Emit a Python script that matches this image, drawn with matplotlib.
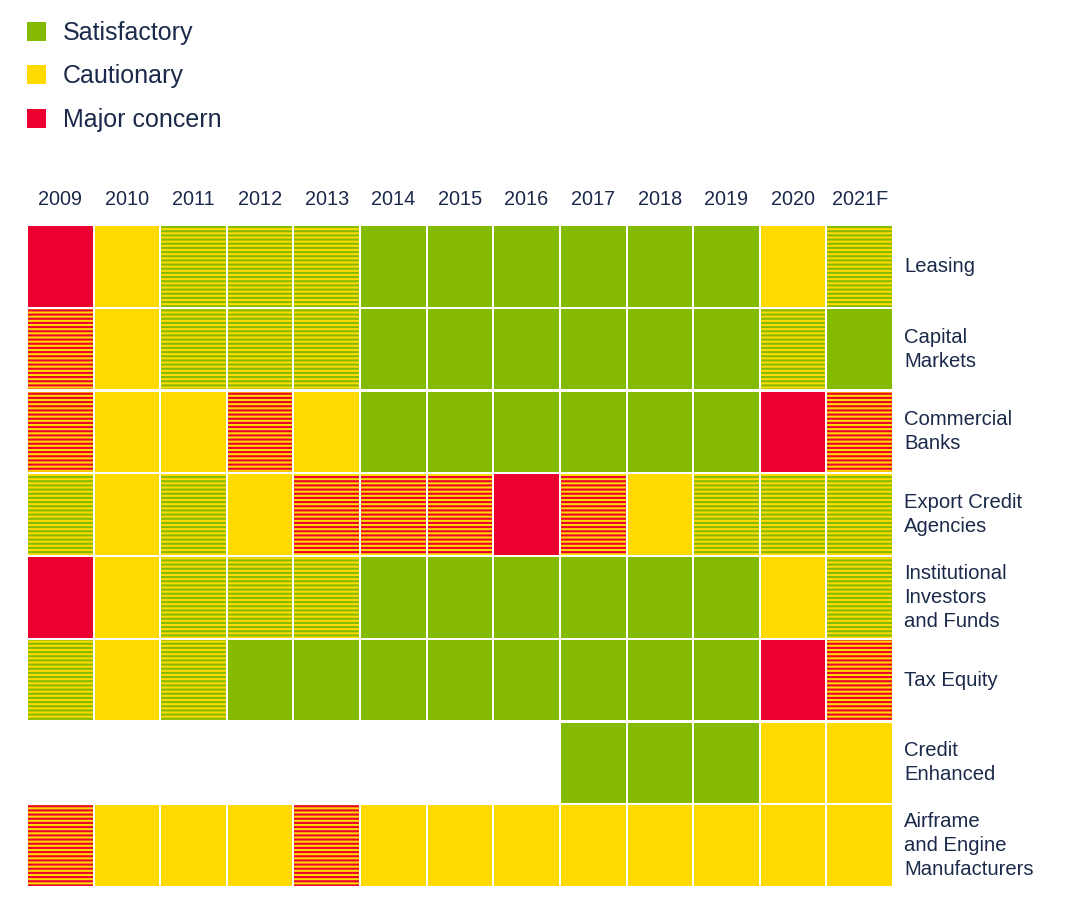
import matplotlib
matplotlib.use("Agg")
import matplotlib.pyplot as plt
from matplotlib.patches import Rectangle

# Dados
years = ['2009', '2010', '2011', '2012', '2013', '2014', '2015', '2016',
         '2017', '2018', '2019', '2020', '2021F']
sources = ['Leasing', 'Capital\nMarkets', 'Commercial\nBanks', 'Export Credit\nAgencies',
           'Institutional\nInvestors\nand Funds', 'Tax Equity', 'Credit\nEnhanced',
           'Airframe\nand Engine\nManufacturers']

# G = satisfactory, Y = cautionary, R = major concern,
# GY / RY = transition (striped), '' = no data
leasing       = ['R', 'Y', 'GY', 'GY', 'GY', 'G', 'G', 'G', 'G', 'G', 'G', 'Y', 'GY']
capital_mkts  = ['RY', 'Y', 'GY', 'GY', 'GY', 'G', 'G', 'G', 'G', 'G', 'G', 'GY', 'G']
comm_banks    = ['RY', 'Y', 'Y', 'RY', 'Y', 'G', 'G', 'G', 'G', 'G', 'G', 'R', 'RY']
eca           = ['GY', 'Y', 'GY', 'Y', 'RY', 'RY', 'RY', 'R', 'RY', 'Y', 'GY', 'GY', 'GY']
institutional = ['R', 'Y', 'GY', 'GY', 'GY', 'G', 'G', 'G', 'G', 'G', 'G', 'Y', 'GY']
tax_equity    = ['GY', 'Y', 'GY', 'G', 'G', 'G', 'G', 'G', 'G', 'G', 'G', 'R', 'RY']
credit_enh    = ['', '', '', '', '', '', '', '', 'G', 'G', 'G', 'Y', 'Y']
airframe      = ['RY', 'Y', 'Y', 'Y', 'RY', 'Y', 'Y', 'Y', 'Y', 'Y', 'Y', 'Y', 'Y']
status = [leasing, capital_mkts, comm_banks, eca, institutional, tax_equity, credit_enh, airframe]

legend_labels = ['Satisfactory', 'Cautionary', 'Major concern']

# Cores
GREEN = '#84ba00'
YELLOW = '#ffda00'
RED = '#eb0030'
TEXT = '#1b2a4a'
colors = {'G': GREEN, 'Y': YELLOW, 'R': RED}

plt.rcParams['font.family'] = ['Liberation Sans', 'DejaVu Sans']
plt.rcParams['hatch.linewidth'] = 1.5

W, H = 1076, 917
fig = plt.figure(figsize=(W / 100, H / 100), dpi=100)

# Eixo da grade (em pixels da figura)
x0, x1, y0, y1 = 27, 893, 225, 887
ax = fig.add_axes([x0 / W, 1 - y1 / H, (x1 - x0) / W, (y1 - y0) / H])
ax.set_xlim(0, len(years))
ax.set_ylim(len(sources), 0)
ax.axis('off')

gx = 1.0 / 66.6
gy = 1.0 / 82.7
for r, row in enumerate(status):
    for c, s in enumerate(row):
        if not s:
            continue
        kw = dict(linewidth=0)
        if len(s) == 1:
            kw.update(facecolor=colors[s], edgecolor=colors[s])
        else:
            kw.update(facecolor=YELLOW, edgecolor=colors[s[0]], hatch='----')
        ax.add_patch(Rectangle((c + gx, r + gy), 1 - 2 * gx, 1 - 2 * gy, **kw))

# Anos (topo)
for c, y in enumerate(years):
    ax.text(c + 0.5, -0.31, y, ha='center', va='center', fontsize=14.3, color=TEXT)

# Fontes (direita)
for r, s in enumerate(sources):
    ax.text(len(years) + 0.17, r + 0.5, s, ha='left', va='center', fontsize=14.6,
            color=TEXT, linespacing=1.32)

# Legenda
leg_y = [31, 74, 118]
for lab, col, yy in zip(legend_labels, [GREEN, YELLOW, RED], leg_y):
    fig.add_artist(Rectangle((27 / W, 1 - (yy + 9.5) / H), 19 / W, 19 / H,
                             facecolor=col, edgecolor='none', transform=fig.transFigure))
    fig.text(63 / W, 1 - (yy + 2) / H, lab, ha='left', va='center', fontsize=18, color=TEXT)

fig.savefig('out.png', dpi=100)
